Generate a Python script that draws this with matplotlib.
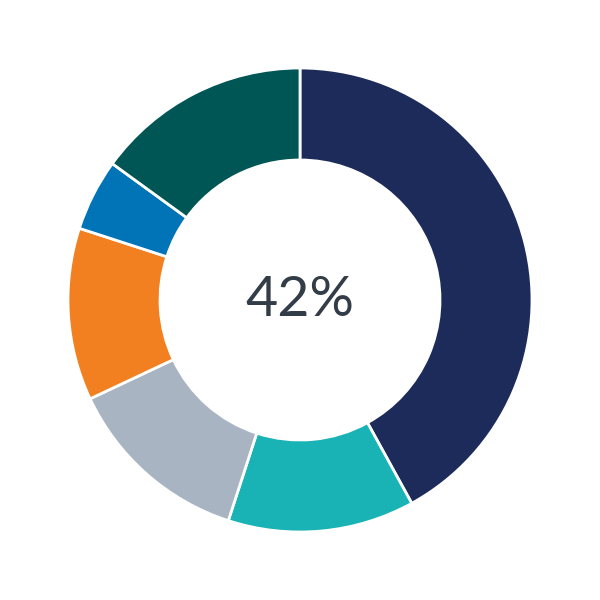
import matplotlib
matplotlib.use("Agg")
import matplotlib.pyplot as plt

labels = ["A", "B", "C", "D", "E", "F"]
values = [42, 13, 13, 12, 5, 15]
colors = ["#1c2b5a", "#1ab3b5", "#a9b4c2", "#f27f20", "#0074b7", "#005555"]
center_text = "42%"

fig = plt.figure(figsize=(6, 6), dpi=100)
ax = fig.add_axes([0, 0, 1, 1])
ax.pie(values, colors=colors, startangle=90, counterclock=False, radius=1.0,
       wedgeprops=dict(width=92/232, edgecolor="white", linewidth=2))
lim = 300 / 232
ax.set_xlim(-lim, lim)
ax.set_ylim(-lim, lim)
ax.set_aspect("equal")
ax.axis("off")
ax.text(0, 0, center_text, ha="center", va="center", fontsize=40,
        color="#333d47", family="Lato", fontweight="normal")
fig.savefig("out.png", dpi=100, facecolor="white")
